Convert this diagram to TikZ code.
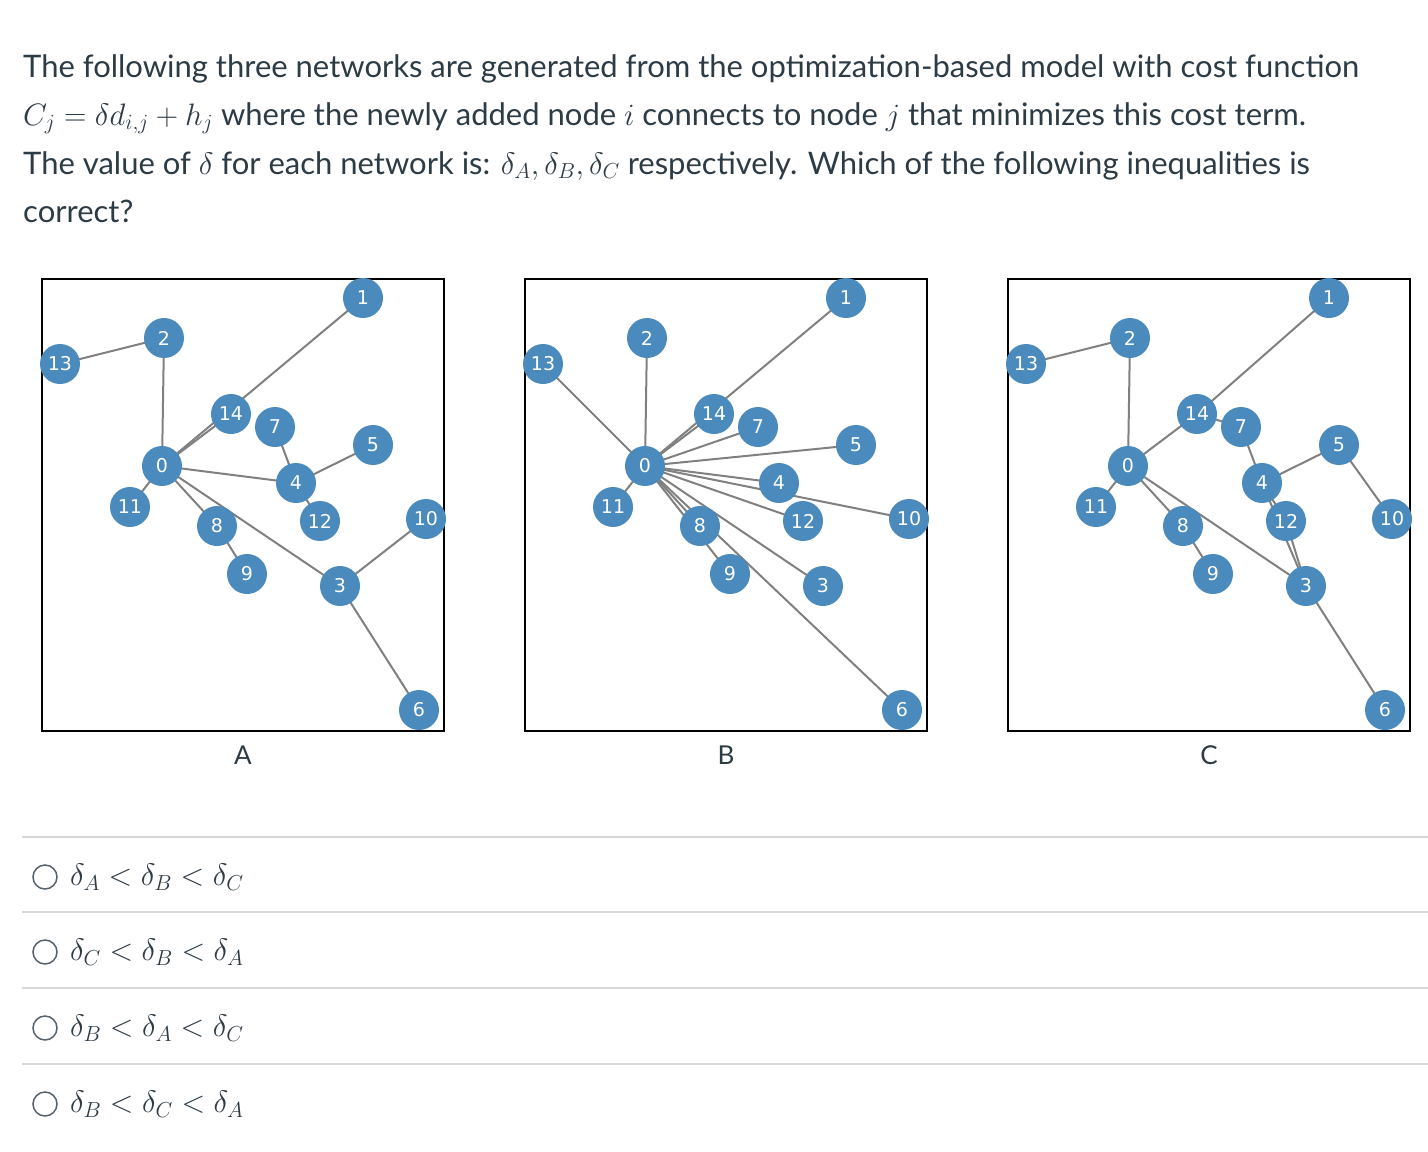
\RequirePackage{fix-cm}
\documentclass[tikz,border=0pt]{standalone}
\usepackage{fontspec}
\setmainfont{Lato}
\usepackage{amsmath}
\newfontfamily\nodefont{DejaVu Sans}
\definecolor{nblue}{HTML}{4A8ABD}
\definecolor{egray}{HTML}{808080}
\definecolor{sepgray}{HTML}{D9D9D9}
\definecolor{txt}{HTML}{2D3B45}
\begin{document}
\begin{tikzpicture}[x=1pt,y=-1pt,
  nd/.style={circle,fill=nblue,minimum size=40pt,inner sep=0pt,text=white,font=\nodefont\fontsize{19}{19}\selectfont},
  ed/.style={draw=egray,line width=2pt},
  frame/.style={draw=black,line width=2pt},
  qline/.style={font=\fontsize{31}{37}\selectfont,text=txt,anchor=base west,inner sep=0pt},
  sep/.style={draw=sepgray,line width=1.2pt},
  radio/.style={circle,draw=txt!80,line width=1.5pt,minimum size=24pt,inner sep=0pt}]
\useasboundingbox (0,0) rectangle (1428,1152);
\node[qline] (t1) at (23,77) {The following three networks are generated from the optimization-based model with cost function};
\node[qline] (t2) at (23,125) {$C_j=\delta d_{i,j}+h_j$ where the newly added node $i$ connects to node $j$ that minimizes this cost term.};
\node[qline] (t3) at (23,174) {The value of $\delta$ for each network is: $\delta_A,\delta_B,\delta_C$ respectively. Which of the following inequalities is};
\node[qline] (t4) at (23,222) {correct?};
\foreach \dx/\lab in {0/A,483/B,966/C}{
\begin{scope}[xshift=\dx]
\draw[frame] (42,279) rectangle (444,731);
\node[qline,anchor=base,font=\fontsize{26}{30}\selectfont] (lab\lab) at (243,764) {\lab};
\end{scope}}
\foreach \dx/\p in {0/a,483/b,966/c}{
\begin{scope}[xshift=\dx]
\foreach \n/\x/\y in {1/363/298,2/164/338,13/60/364,14/231/414,7/275/427,5/373/445,0/162/466,4/296/483,11/130/507,8/217/526,12/320/521,10/426/519,9/247/574,3/340/586,6/419/710}{
\coordinate (\p\n) at (\x,\y);}
\end{scope}}
\foreach \u/\v in {13/2,2/0,0/14,0/1,0/4,4/7,4/5,4/12,0/11,0/8,8/9,0/3,3/10,3/6}{\draw[ed] (a\u) -- (a\v);}
\foreach \v in {13,2,1,14,7,5,4,10,12,11,8,9,3,6}{\draw[ed] (b0) -- (b\v);}
\foreach \u/\v in {13/2,2/0,0/14,14/1,14/7,7/4,4/5,5/10,4/12,4/3,12/3,0/11,0/8,8/9,0/3,3/6}{\draw[ed] (c\u) -- (c\v);}
\foreach \p in {a,b,c}{
\foreach \n in {0,...,14}{\node[nd] (n\p\n) at (\p\n) {\n};}}
\foreach \i/\y/\tx in {1/877/{$\delta_A<\delta_B<\delta_C$},2/952/{$\delta_C<\delta_B<\delta_A$},3/1028/{$\delta_B<\delta_A<\delta_C$},4/1104/{$\delta_B<\delta_C<\delta_A$}}{
\draw[sep] (22,\y-40) -- (1428,\y-40);
\node[radio] (r\i) at (45,\y) {};
\node[qline,anchor=west] (o\i) at (70,\y) {\tx};}
\end{tikzpicture}
\end{document}
